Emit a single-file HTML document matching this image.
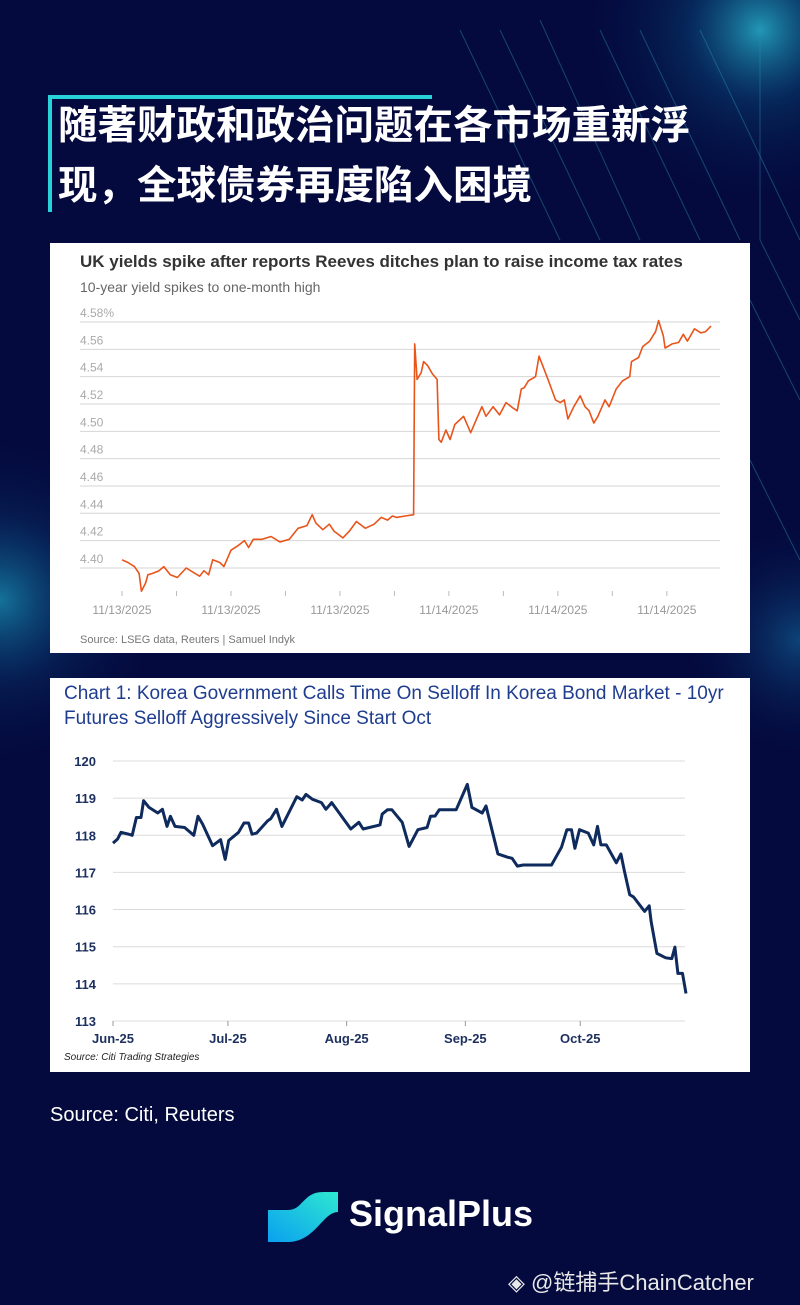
<!DOCTYPE html>
<html><head><meta charset="utf-8">
<style>
html,body{margin:0;padding:0}
body{width:800px;height:1305px;position:relative;overflow:hidden;background:#040a3e;font-family:"Liberation Sans","Noto Sans CJK SC",sans-serif}
.abs{position:absolute}
</style></head>
<body>
<svg class="abs" style="left:0;top:0" width="800" height="1305">
<defs>
<radialGradient id="g1" cx="760" cy="30" r="180" gradientUnits="userSpaceOnUse"><stop offset="0" stop-color="#2fd4e8" stop-opacity="0.7"/><stop offset="0.4" stop-color="#0c6a9a" stop-opacity="0.3"/><stop offset="1" stop-color="#040a3e" stop-opacity="0"/></radialGradient>
<radialGradient id="g2" cx="0" cy="600" r="170" gradientUnits="userSpaceOnUse"><stop offset="0" stop-color="#1fb8d8" stop-opacity="0.6"/><stop offset="0.5" stop-color="#0b4f86" stop-opacity="0.25"/><stop offset="1" stop-color="#040a3e" stop-opacity="0"/></radialGradient>
<radialGradient id="g3" cx="800" cy="640" r="120" gradientUnits="userSpaceOnUse"><stop offset="0" stop-color="#1a9ad0" stop-opacity="0.4"/><stop offset="1" stop-color="#040a3e" stop-opacity="0"/></radialGradient>
</defs>
<rect width="800" height="1305" fill="url(#g1)"/>
<rect width="800" height="1305" fill="url(#g2)"/>
<rect width="800" height="1305" fill="url(#g3)"/>
<g stroke="#2a8fb0" stroke-opacity="0.45" stroke-width="1">
<line x1="460" y1="30" x2="560" y2="240"/><line x1="500" y1="30" x2="600" y2="240"/><line x1="540" y1="20" x2="640" y2="240"/>
<line x1="600" y1="30" x2="700" y2="240"/><line x1="640" y1="30" x2="740" y2="240"/><line x1="700" y1="30" x2="800" y2="240"/>
<line x1="760" y1="240" x2="800" y2="320"/><line x1="750" y1="300" x2="800" y2="400"/><line x1="750" y1="460" x2="800" y2="560"/>
<line x1="760" y1="20" x2="760" y2="240"/>
</g>
</svg>

<div class="abs" style="left:48px;top:95px;width:384px;height:4px;background:#27d3d8"></div>
<div class="abs" style="left:48px;top:95px;width:4px;height:117px;background:#27d3d8"></div>
<div class="abs" style="left:58px;top:93px;color:#fff;font-size:39.5px;font-weight:bold;line-height:60px;width:730px;white-space:nowrap;font-family:'Noto Sans CJK SC',sans-serif">随著财政和政治问题在各市场重新浮<br>现，全球债券再度陷入困境</div>

<div class="abs" style="left:50px;top:243px;width:700px;height:410px;background:#fff"></div>
<div class="abs" style="left:80px;top:252px;font-size:17px;font-weight:bold;color:#333">UK yields spike after reports Reeves ditches plan to raise income tax rates</div>
<div class="abs" style="left:80px;top:279px;font-size:14px;color:#666">10-year yield spikes to one-month high</div>
<div class="abs" style="left:80px;top:634px;font-size:11px;color:#777">Source: LSEG data, Reuters | Samuel Indyk</div>
<svg id="uk" class="abs" style="left:0;top:0" width="800" height="700"></svg>

<div class="abs" style="left:50px;top:678px;width:700px;height:394px;background:#fff"></div>
<div class="abs" style="left:64px;top:681px;font-size:19px;color:#1f3d8f;line-height:25px;white-space:nowrap">Chart 1: Korea Government Calls Time On Selloff In Korea Bond Market - 10yr<br>Futures Selloff Aggressively Since Start Oct</div>
<div class="abs" style="left:64px;top:1052px;font-size:10px;font-style:italic;color:#222">Source: Citi Trading Strategies</div>
<svg id="kr" class="abs" style="left:0;top:0" width="800" height="1100"></svg>

<div class="abs" style="left:50px;top:1104px;font-size:20px;color:#fff">Source: Citi, Reuters</div>

<svg class="abs" style="left:268px;top:1190px" width="72" height="55">
<defs><linearGradient id="lg" x1="0" y1="1" x2="1" y2="0"><stop offset="0" stop-color="#0aa0f0"/><stop offset="1" stop-color="#2ee8d0"/></linearGradient></defs>
<path d="M0 20 L20 20 C35 20 35 2 55 2 L70 2 L70 22 C55 22 48 50 22 52 L0 52 Z" fill="url(#lg)"/>
</svg>
<div class="abs" style="left:349px;top:1193px;font-size:36px;font-weight:bold;color:#fff">SignalPlus</div>
<div class="abs" style="left:508px;top:1265px;font-size:22px;color:#e8e8e8;white-space:nowrap;font-family:'Liberation Sans','Noto Sans CJK SC',sans-serif">◈ @链捕手ChainCatcher</div>

<script>
// UK 10-year yield data (t = time index 0..100 across two sessions)
const ukTimes=[0,1.0,2.1,2.9,3.3,4.0,4.4,5.2,6.3,7.1,8.2,9.4,10.9,12.4,13.2,13.9,14.7,15.4,16.6,17.3,18.5,19.6,20.8,21.5,22.3,23.8,25.3,26.1,26.8,28.4,29.9,31.4,32.3,32.9,34.1,35.2,36.0,37.5,38.6,39.8,41.3,42.8,44.0,45.1,45.9,46.6,48.1,49.5,49.7,50.1,50.8,51.2,51.9,52.7,53.5,53.8,54.2,55.0,55.7,56.5,58.0,59.2,59.9,61.1,61.8,63.0,64.1,65.2,66.4,67.1,67.8,68.3,69.0,70.2,70.8,71.7,72.5,73.6,74.4,75.1,75.7,76.7,77.8,78.6,79.3,80.1,80.8,82.0,82.7,83.9,85.0,86.2,86.5,87.7,88.4,89.6,90.6,91.1,91.9,92.2,93.4,94.5,95.3,96.0,97.2,98.3,99.1,100];
const ukYields=[4.406,4.404,4.401,4.396,4.383,4.389,4.395,4.396,4.398,4.401,4.395,4.393,4.400,4.396,4.394,4.398,4.395,4.406,4.404,4.401,4.413,4.416,4.420,4.415,4.421,4.421,4.423,4.421,4.419,4.421,4.429,4.431,4.439,4.433,4.428,4.432,4.427,4.422,4.427,4.434,4.429,4.432,4.437,4.435,4.438,4.437,4.438,4.439,4.564,4.538,4.543,4.551,4.548,4.542,4.538,4.494,4.492,4.501,4.494,4.505,4.511,4.499,4.506,4.518,4.511,4.518,4.512,4.521,4.517,4.515,4.531,4.532,4.537,4.540,4.555,4.545,4.536,4.523,4.521,4.523,4.509,4.518,4.526,4.518,4.515,4.506,4.511,4.523,4.518,4.531,4.537,4.540,4.551,4.554,4.562,4.566,4.573,4.581,4.570,4.561,4.564,4.565,4.571,4.566,4.575,4.572,4.573,4.577];
const ukYTicks=[4.40,4.42,4.44,4.46,4.48,4.50,4.52,4.54,4.56,4.58];
const ukYTickLabels=["4.40","4.42","4.44","4.46","4.48","4.50","4.52","4.54","4.56","4.58%"];
const ukXTicks=[0,18.5,37,55.5,74,92.5];
const ukXTickLabels=["11/13/2025","11/13/2025","11/13/2025","11/14/2025","11/14/2025","11/14/2025"];

// Korea 10yr futures (days since 1 Jun 2025)
const krDays=[0,1.2,2.1,4.1,5.0,6.1,7.3,8.0,9.4,11.7,12.9,14.1,15.0,16.2,18.7,21.1,22.2,23.4,26.0,28.1,29.3,30.2,32.8,34.2,35.4,36.3,37.5,40.4,41.2,42.7,44.1,48.0,49.4,50.4,52.1,54.4,55.6,57.1,62.1,64.2,65.3,69.7,70.3,71.7,72.8,75.5,77.3,79.6,82.0,82.9,84.1,85.2,89.6,92.5,93.7,96.4,97.4,100.5,103.0,104.2,105.6,107.1,114.5,117.1,118.5,119.7,120.6,121.8,124.1,125.5,126.5,127.4,128.8,131.4,132.6,133.5,134.9,135.9,138.8,140.0,140.5,142.0,144.3,145.9,146.7,147.5,148.7,149.6];
const krPrices=[117.79,117.9,118.08,118.03,118.0,118.48,118.48,118.93,118.75,118.6,118.7,118.24,118.51,118.24,118.21,118.0,118.51,118.3,117.72,117.88,117.35,117.86,118.08,118.33,118.33,118.03,118.06,118.39,118.45,118.7,118.24,119.04,118.95,119.1,118.97,118.88,118.7,118.88,118.17,118.35,118.17,118.28,118.57,118.69,118.69,118.35,117.7,118.15,118.21,118.51,118.52,118.69,118.69,119.37,118.75,118.6,118.79,117.5,117.41,117.38,117.17,117.2,117.2,117.68,118.15,118.15,117.65,118.15,118.06,117.74,118.24,117.74,117.74,117.26,117.5,117.05,116.4,116.34,115.95,116.1,115.68,114.82,114.7,114.68,114.99,114.28,114.28,113.74];
const krYTicks=[113,114,115,116,117,118,119,120];
const krXTicks=[0,30,61,92,122];
const krXTickLabels=["Jun-25","Jul-25","Aug-25","Sep-25","Oct-25"];

const NS="http://www.w3.org/2000/svg";
function mk(svg,tag,attrs,text){const e=document.createElementNS(NS,tag);for(const k in attrs)e.setAttribute(k,attrs[k]);if(text!==undefined)e.textContent=text;svg.appendChild(e);return e;}

// UK chart
(function(){
const svg=document.getElementById('uk');
const x=t=>122+t*5.89;
const y=v=>322+(4.58-v)/0.02*27.33;
ukYTicks.forEach((v,i)=>{
  const g=mk(svg,'line',{x1:80,x2:720,y1:y(v),y2:y(v),stroke:'#d6d6d6','stroke-width':1});
  
  
  const t=mk(svg,'text',{x:80,y:y(v)-5,'font-size':12,fill:'#aaa','font-family':'Liberation Sans'},ukYTickLabels[i]);
  
  
});
for(let k=0;k<11;k++){
  const t=k*9.25;
  const tk=mk(svg,'line',{x1:x(t),x2:x(t),y1:591,y2:596,stroke:'#bbb','stroke-width':1});
  
  
}
ukXTicks.forEach((t,i)=>{
  const l=mk(svg,'text',{x:x(t),y:614,'font-size':12,fill:'#999','text-anchor':'middle','font-family':'Liberation Sans'},ukXTickLabels[i]);
  
  
});
const d=ukTimes.map((t,i)=>(i?'L':'M')+x(t).toFixed(1)+' '+y(ukYields[i]).toFixed(1)).join(' ');
const p=mk(svg,'path',{d:d,fill:'none',stroke:'#e8541a','stroke-width':1.6,'stroke-linejoin':'round'});


})();

// Korea chart
(function(){
const svg=document.getElementById('kr');
const x=d=>113+d*3.83;
const y=v=>761+(120-v)*37.14;
krYTicks.forEach(v=>{
  const g=mk(svg,'line',{x1:113,x2:685,y1:y(v),y2:y(v),stroke:'#dcdcdc','stroke-width':1});
  
  
  const t=mk(svg,'text',{x:96,y:y(v)+5,'font-size':13,'font-weight':'bold',fill:'#1c2f5e','text-anchor':'end','font-family':'Liberation Sans'},String(v));
  
  
});
krXTicks.forEach((d,i)=>{
  const tk=mk(svg,'line',{x1:x(d),x2:x(d),y1:1021,y2:1026,stroke:'#999','stroke-width':1});
  
  
  const l=mk(svg,'text',{x:x(d),y:1043,'font-size':13,'font-weight':'bold',fill:'#1c2f5e','text-anchor':'middle','font-family':'Liberation Sans'},krXTickLabels[i]);
  
  
});
const d=krDays.map((t,i)=>(i?'L':'M')+x(t).toFixed(1)+' '+y(krPrices[i]).toFixed(1)).join(' ');
const p=mk(svg,'path',{d:d,fill:'none',stroke:'#0f2a5c','stroke-width':3,'stroke-linejoin':'round'});


})();
</script>
</body></html>
